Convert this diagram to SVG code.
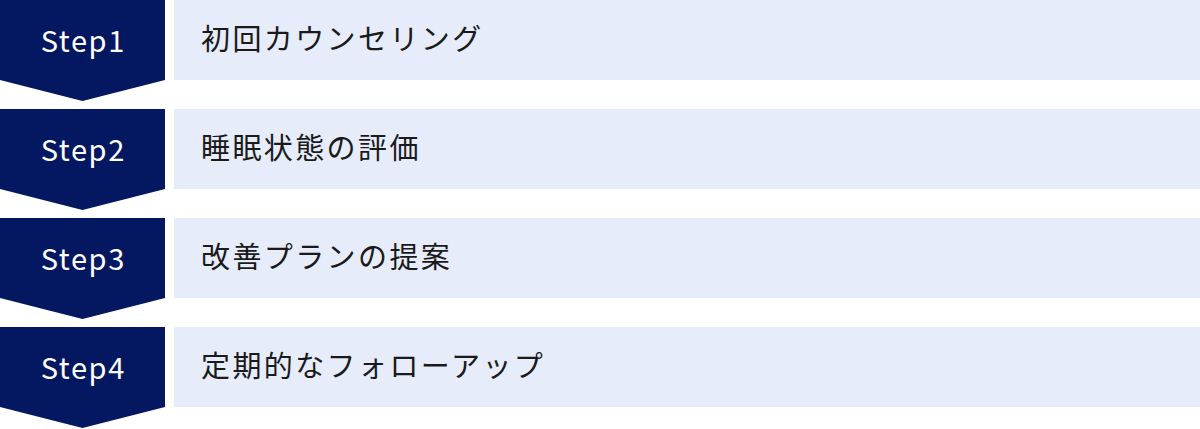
<svg xmlns="http://www.w3.org/2000/svg" width="1200" height="429" viewBox="0 0 1200 429">
<style>
.badge{fill:#041761}
.bar{fill:#e6ecf9}
.st{font-family:"Noto Sans CJK JP","Noto Sans",sans-serif;font-size:29px;fill:#ffffff;text-anchor:middle;letter-spacing:1.6px}
.lb{font-family:"Noto Sans CJK JP",sans-serif;font-size:29px;fill:#1a1a1a;letter-spacing:2.4px}
</style>
<rect width="1200" height="429" fill="#ffffff"/>
<g id="step1">
<polygon class="badge" points="0,0 165,0 165,80 82.5,101 0,80"/>
<rect class="bar" x="174" y="0" width="1026" height="80"/>
<text class="st" x="83.3" y="52">Step1</text>
<text class="lb" x="201" y="50">初回カウンセリング</text>
</g>
<g id="step2">
<polygon class="badge" points="0,109 165,109 165,189 82.5,210 0,189"/>
<rect class="bar" x="174" y="109" width="1026" height="80"/>
<text class="st" x="83.3" y="161">Step2</text>
<text class="lb" x="201" y="159">睡眠状態の評価</text>
</g>
<g id="step3">
<polygon class="badge" points="0,218 165,218 165,298 82.5,319 0,298"/>
<rect class="bar" x="174" y="218" width="1026" height="80"/>
<text class="st" x="83.3" y="270">Step3</text>
<text class="lb" x="201" y="268">改善プランの提案</text>
</g>
<g id="step4">
<polygon class="badge" points="0,327 165,327 165,407 82.5,428 0,407"/>
<rect class="bar" x="174" y="327" width="1026" height="80"/>
<text class="st" x="83.3" y="379">Step4</text>
<text class="lb" x="201" y="377">定期的なフォローアップ</text>
</g>
<g id="connectors"/>
</svg>
